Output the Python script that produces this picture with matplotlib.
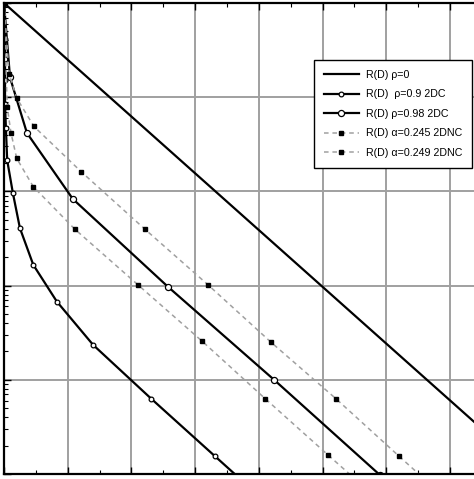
import numpy as np
import matplotlib.pyplot as plt
from matplotlib.ticker import MultipleLocator, LogLocator, NullFormatter

plt.rcParams['font.family'] = ['Liberation Sans', 'DejaVu Sans']

# rate R (bits) and log10 of distortion D
r_rho0 = [0.0, 8.0]
d_rho0 = [0.0, -4.82]

r_rho09 = [0.0, 0.016, 0.016, 0.016, 0.016, 0.03, 0.05, 0.14, 0.25, 0.46, 0.83, 1.40, 2.31, 3.31, 4.31]
d_rho09 = [0.0, -0.38, -0.59, -0.82, -1.07, -1.33, -1.67, -2.02, -2.39, -2.78, -3.17, -3.63, -4.20, -4.81, -5.42]

r_rho098 = [0.0, 0.094, 0.36, 1.08, 2.57, 4.24, 5.90]
d_rho098 = [0.0, -0.79, -1.38, -2.08, -3.01, -4.00, -5.01]

r_a245 = [0.0, 0.08, 0.20, 0.47, 1.21, 2.21, 3.20, 4.19, 5.21, 6.20, 7.20]
d_a245 = [0.0, -0.754, -1.01, -1.31, -1.79, -2.40, -2.99, -3.60, -4.20, -4.81, -5.42]

r_a249 = [0.0, 0.05, 0.11, 0.20, 0.46, 1.11, 2.10, 3.11, 4.10, 5.09, 6.09]
d_a249 = [0.0, -1.10, -1.38, -1.65, -1.95, -2.40, -2.99, -3.59, -4.20, -4.80, -5.40]

labels = ['R(D) \u03c1=0', 'R(D)  \u03c1=0.9 2DC', 'R(D) \u03c1=0.98 2DC',
          'R(D) \u03b1=0.245 2DNC', 'R(D) \u03b1=0.249 2DNC']

fig = plt.figure(figsize=(4.74, 4.79), dpi=100)
ax = fig.add_axes([4/474, 5/479, 8*63.7/474, 471/479])

ax.plot(r_rho0, 10**np.array(d_rho0), color='black', lw=1.6, label=labels[0])
ax.plot(r_rho09, 10**np.array(d_rho09), color='black', lw=1.6, marker='o',
        ms=3.4, mfc='white', mec='black', mew=0.9, label=labels[1])
ax.plot(r_rho098, 10**np.array(d_rho098), color='black', lw=1.6, marker='o',
        ms=4.4, mfc='white', mec='black', mew=0.9, label=labels[2])
ax.plot(r_a245, 10**np.array(d_a245), color='#a0a0a0', lw=1.1, ls=(0, (3, 2.5)),
        marker='s', ms=3.1, mfc='black', mec='black', label=labels[3])
ax.plot(r_a249, 10**np.array(d_a249), color='#a0a0a0', lw=1.1, ls=(0, (3, 2.5)),
        marker='s', ms=2.7, mfc='black', mec='black', label=labels[4])

ax.set_yscale('log')
ax.set_xlim(0, 8)
ax.set_ylim(1e-5, 1)

ax.xaxis.set_major_locator(MultipleLocator(1))
ax.xaxis.set_minor_locator(MultipleLocator(0.5))
ax.yaxis.set_major_locator(LogLocator(base=10, numticks=10))
ax.yaxis.set_minor_locator(LogLocator(base=10, subs=np.arange(2, 10), numticks=20))
ax.yaxis.set_minor_formatter(NullFormatter())

ax.grid(True, which='major', color='#a0a0a0', lw=1.4)
ax.set_axisbelow(True)
ax.tick_params(which='both', direction='in', top=True, right=True,
               labelbottom=False, labelleft=False)
ax.tick_params(which='major', length=5, width=1)
ax.tick_params(which='minor', length=3, width=0.8)
for s in ax.spines.values():
    s.set_linewidth(1.6)
    s.set_color('black')

leg = fig.legend(loc='upper left', bbox_to_anchor=(314/474, 1 - 60/479),
                 fontsize=7.7, frameon=True, fancybox=False, framealpha=1,
                 edgecolor='black', handlelength=3.3, labelspacing=0.9,
                 borderpad=0.9, handletextpad=0.7, borderaxespad=0)
leg.get_frame().set_linewidth(1.0)

fig.savefig('out.png', dpi=100)
